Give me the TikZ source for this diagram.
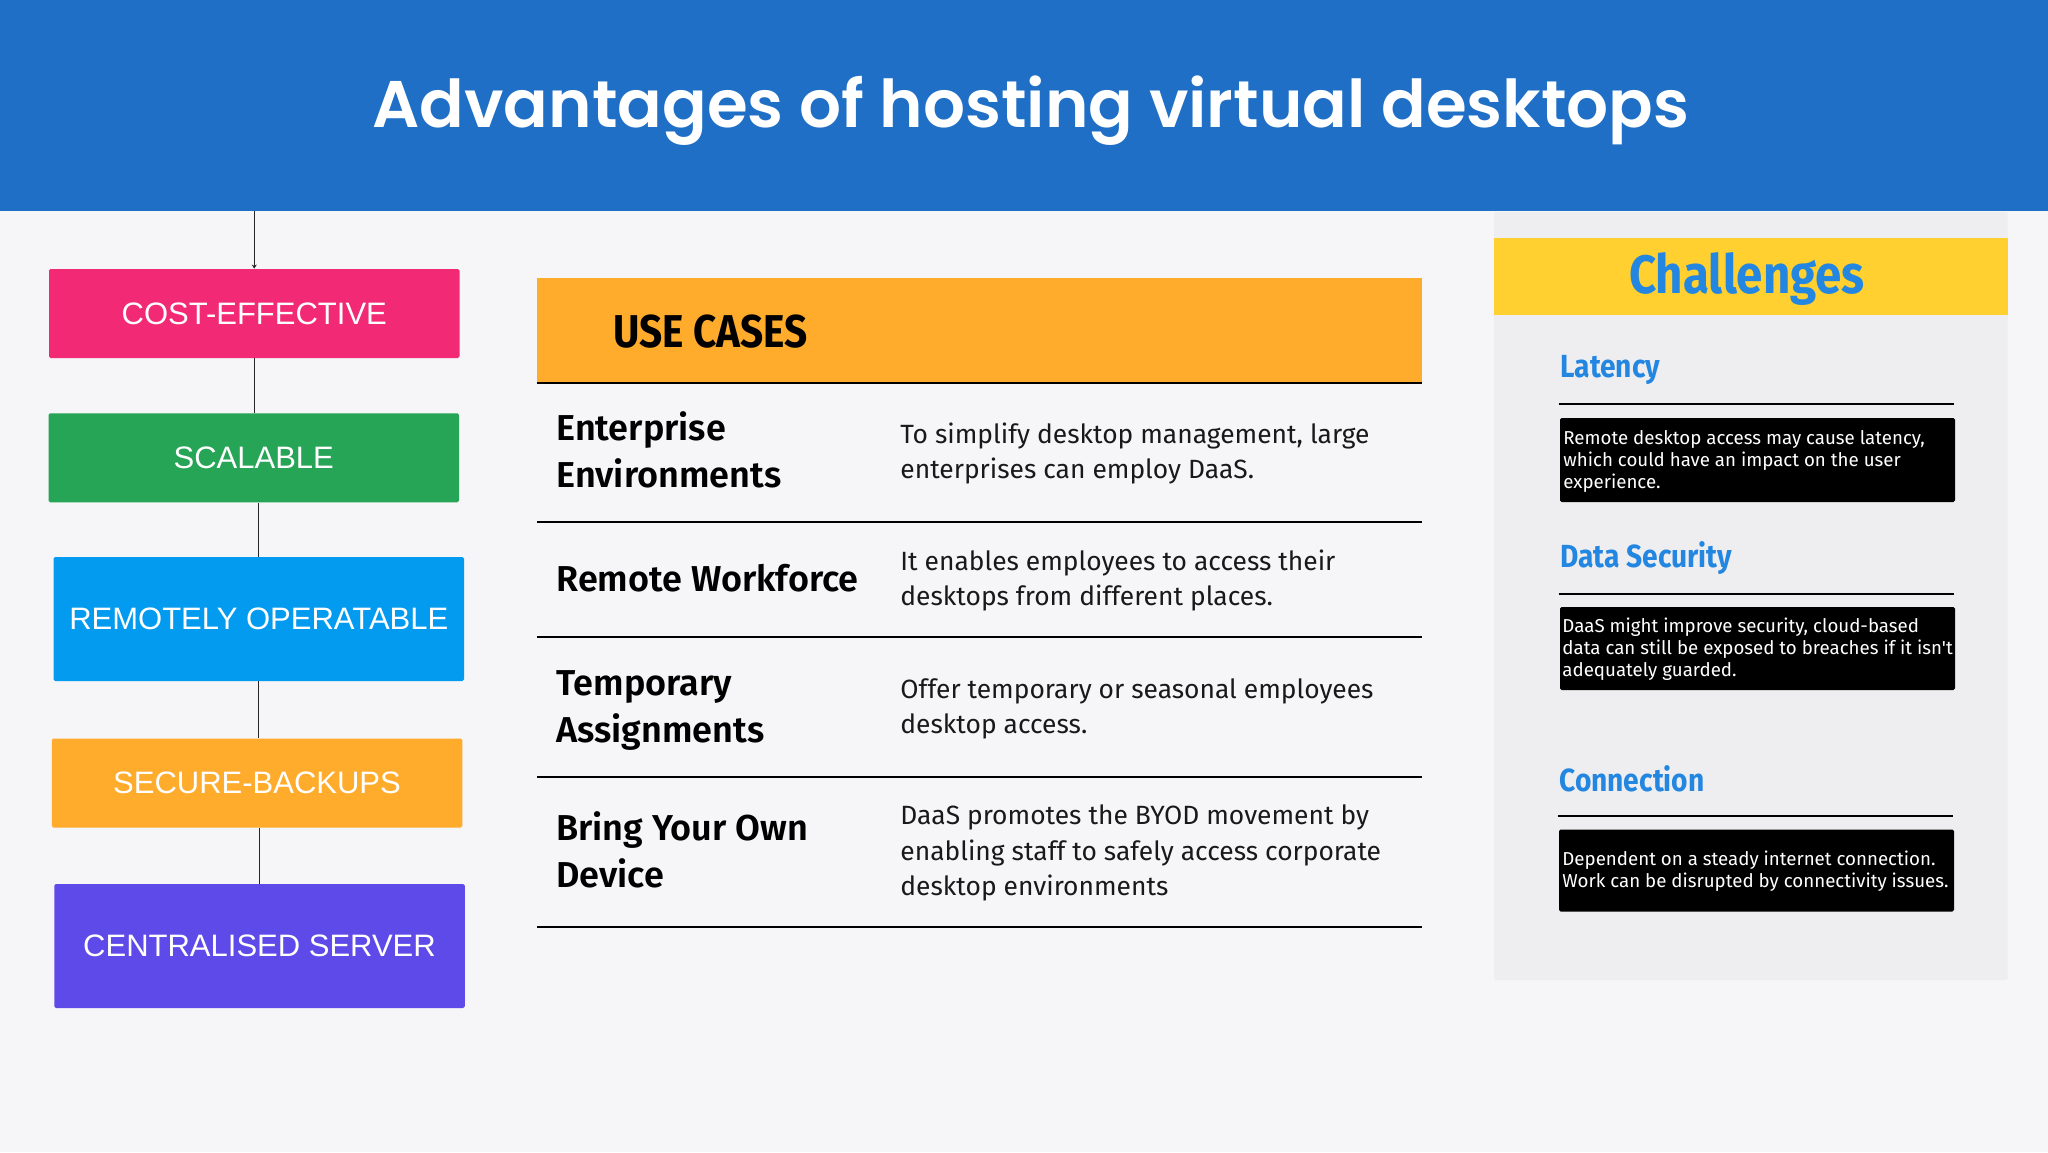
\documentclass[tikz,border=0pt]{standalone}
\usepackage{fontspec}
\setmainfont{Open Sans}
\newfontfamily\titlefont{Poppins}[UprightFont=* SemiBold]
\newfontfamily\boxfont{Liberation Sans}
\newfontfamily\headfont{Fira Sans}[FakeStretch=0.88,UprightFont=* Bold]
\newfontfamily\rowfont{Fira Sans}[UprightFont=* SemiBold]
\newfontfamily\descfont{Fira Sans}
\newfontfamily\smallfont{Fira Sans}
\definecolor{bgc}{HTML}{F6F5F8}
\definecolor{bannerc}{HTML}{1F6FC6}
\definecolor{panelc}{HTML}{EEEEF0}
\definecolor{pinkc}{HTML}{F22974}
\definecolor{greenc}{HTML}{26A556}
\definecolor{bluec}{HTML}{039BF0}
\definecolor{orangec}{HTML}{FFAB2C}
\definecolor{purplec}{HTML}{5E4AE8}
\definecolor{yellowc}{HTML}{FFD02F}
\definecolor{headc}{HTML}{2386E0}
\usetikzlibrary{arrows.meta}
\tikzset{
  stagebox/.style={rounded corners=0.8pt,inner sep=0pt,text=white,font=\boxfont\fontsize{15.5}{19}\selectfont,minimum width=205.25pt},
  rule/.style={line width=0.9pt,black},
  link/.style={line width=0.55pt,black!85},
  rowhead/.style={anchor=west,align=left,inner sep=0pt,font=\rowfont\fontsize{18}{23.5}\selectfont,text=black},
  rowdesc/.style={anchor=west,align=left,inner sep=0pt,font=\descfont\fontsize{13.2}{17.6}\selectfont,text=black!90},
  chead/.style={anchor=west,inner sep=0pt,font=\headfont\fontsize{16}{19}\selectfont,text=headc},
  cbox/.style={rounded corners=0.8pt,fill=black,inner sep=0pt,minimum width=197.5pt},
  ctext/.style={anchor=west,align=left,inner sep=0pt,font=\smallfont\fontsize{9.35}{11.1}\selectfont,text=white},
}
\begin{document}
\begin{tikzpicture}[x=0.5pt,y=-0.5pt]
\useasboundingbox (0,0) rectangle (2048,1152);
\fill[bgc] (0,0) rectangle (2048,1152);
\node[fill=bannerc,inner sep=0pt,minimum width=1024pt,minimum height=105.5pt] (banner) at (1024,105.5) {};
\node[inner sep=0pt,text=white,font=\titlefont\fontsize{32.95}{40}\selectfont] (title) at (1031,111) {Advantages of hosting virtual desktops};
% left stack
\node[stagebox,fill=pinkc,minimum height=44.5pt] (pink) at (254.25,313.5) {COST-EFFECTIVE};
\node[stagebox,fill=greenc,minimum height=44.5pt] (green) at (253.75,457.75) {SCALABLE};
\node[stagebox,fill=bluec,minimum height=62pt] (blue) at (258.75,619) {REMOTELY OPERATABLE};
\node[stagebox,fill=orangec,minimum height=44.5pt] (orange) at (257,783) {SECURE-BACKUPS};
\node[stagebox,fill=purplec,minimum height=62pt] (purple) at (259.5,946) {CENTRALISED SERVER};
\draw[link,-{Stealth[length=2pt,width=2.5pt]}] (pink.north |- banner.south) -- (pink.north);
\draw[link] (pink.south) -- (pink.south |- green.north);
\draw[link] (blue.north |- green.south) -- (blue.north);
\draw[link] (blue.south) -- (blue.south |- orange.north);
\draw[link] (purple.north |- orange.south) -- (purple.north);
% use cases
\node[fill=orangec,inner sep=0pt,minimum width=442.5pt,minimum height=52.5pt] (usehead) at (979.5,330) {};
\node[anchor=west,inner sep=0pt,text=black,font=\headfont\fontsize{23}{26}\selectfont] (usetitle) at (613,332) {USE CASES};
\draw[rule] (usehead.south west) -- (usehead.south east);
\draw[rule] (537,522) -- (1422,522);
\draw[rule] (537,637) -- (1422,637);
\draw[rule] (537,777) -- (1422,777);
\draw[rule] (537,927) -- (1422,927);
\node[rowhead] (r1) at (556,449.5) {Enterprise\\Environments};
\node[rowhead] (r2) at (556,578) {Remote Workforce};
\node[rowhead] (r3) at (556,710) {Temporary\\Assignments};
\node[rowhead] (r4) at (556,850) {Bring Your Own\\Device};
\node[rowdesc] (d1) at (900,453.3) {To simplify desktop management, large\\enterprises can employ DaaS.};
\node[rowdesc] (d2) at (900,580.3) {It enables employees to access their\\desktops from different places.};
\node[rowdesc] (d3) at (900,709) {Offer temporary or seasonal employees\\desktop access.};
\node[rowdesc] (d4) at (900,853) {DaaS promotes the BYOD movement by\\enabling staff to safely access corporate\\desktop environments};
% challenges
\fill[panelc,rounded corners=1pt] (1494,212) rectangle (2007.5,980);
\node[fill=yellowc,inner sep=0pt,minimum width=256.75pt,minimum height=38.5pt] (chall) at (1750.75,276.5) {};
\node[inner sep=0pt,text=headc,font=\headfont\fontsize{27}{30}\selectfont] (challt) at (1747,279) {Challenges};
\node[chead] (h1) at (1560,370) {Latency};
\draw[rule] (1558.5,404) -- (1953.5,404);
\node[cbox,minimum height=42pt] (b1) at (1757.5,460) {};
\node[ctext] (t1) at (1563,461.3) {Remote desktop access may cause latency,\\which could have an impact on the user\\experience.};
\node[chead] (h2) at (1560,558.5) {Data Security};
\draw[rule] (1558.5,594) -- (1953.5,594);
\node[cbox,minimum height=41.5pt] (b2) at (1757.5,648.5) {};
\node[ctext] (t2) at (1562,649.2) {DaaS might improve security, cloud-based\\data can still be exposed to breaches if it isn't\\adequately guarded.};
\node[chead] (h3) at (1559,779) {Connection};
\draw[rule] (1558,816) -- (1953,816);
\node[cbox,minimum height=41pt] (b3) at (1756.5,870.5) {};
\node[ctext] (t3) at (1562,870.8) {Dependent on a steady internet connection.\\Work can be disrupted by connectivity issues.};
\end{tikzpicture}
\end{document}
